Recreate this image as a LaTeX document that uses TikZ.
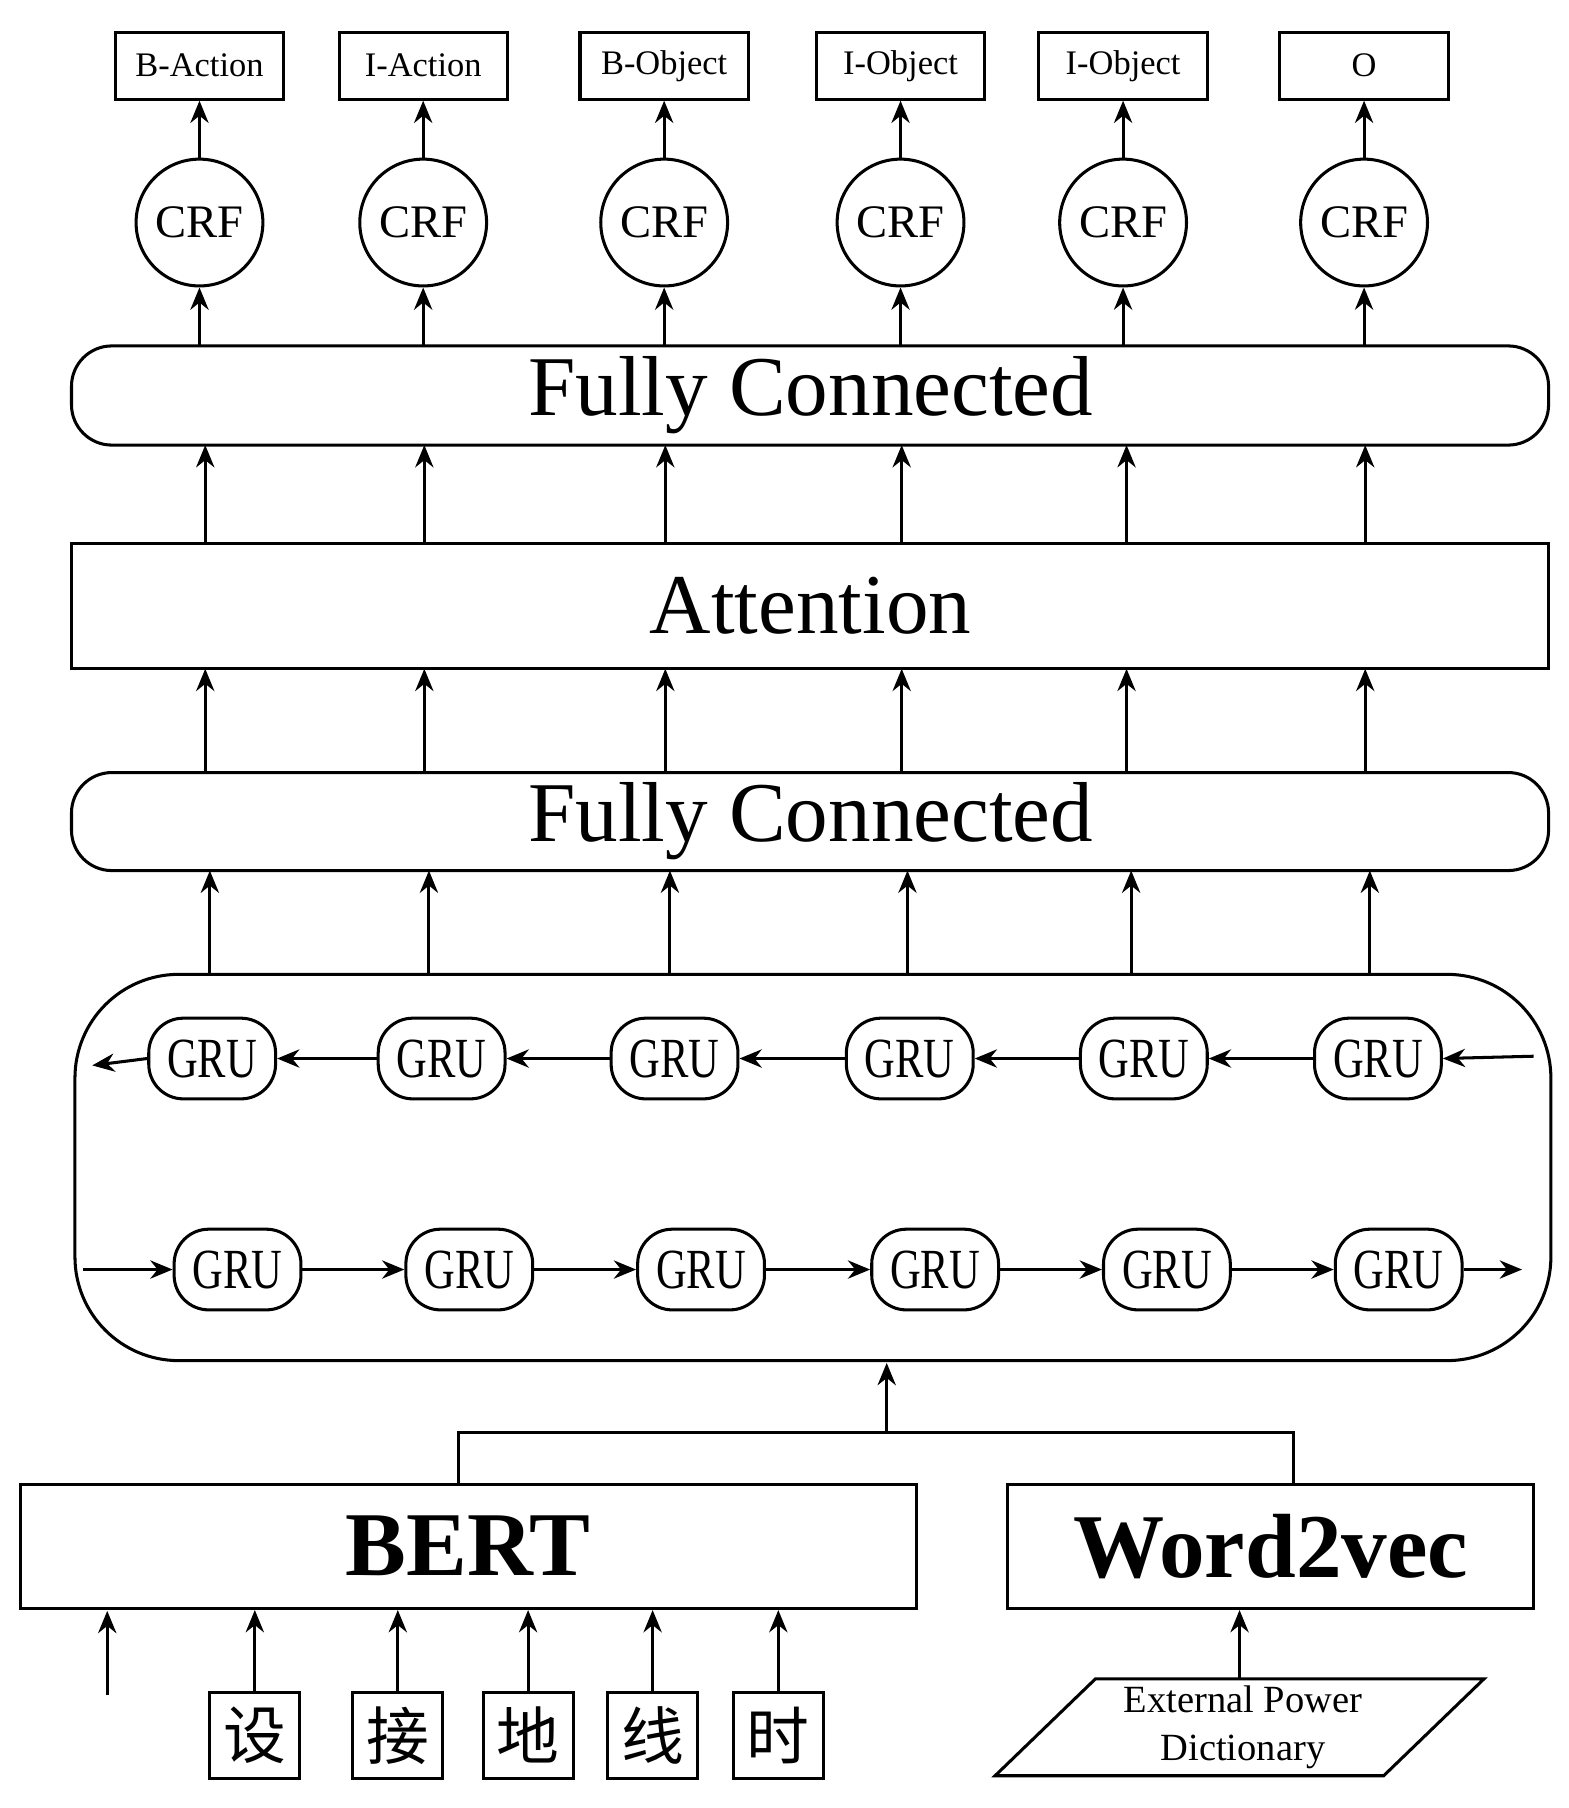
\documentclass[tikz,border=0pt]{standalone}
\usepackage{fontspec}
\setmainfont{Liberation Serif}
\newfontfamily\cjk{Noto Sans CJK SC}
\usetikzlibrary{arrows.meta,shapes.geometric}
\begin{document}
\begin{tikzpicture}[x=0.02cm,y=-0.02cm,
  line width=1.5pt, >={Stealth[length=11pt,width=9pt]},
  lab/.style={draw,minimum width=2.92cm,minimum height=1.16cm,inner sep=0pt,font=\fontsize{17}{17}\selectfont},
  crf/.style={draw,circle,minimum size=2.2cm,inner sep=0pt,font=\fontsize{23}{23}\selectfont},
  gru/.style={draw,rounded corners=0.6cm,minimum width=2.2cm,minimum height=1.4cm,inner sep=0pt,font=\fontsize{28}{28}\selectfont},
  ch/.style={draw,minimum width=1.56cm,minimum height=1.5cm,inner sep=0pt,font=\cjk\fontsize{31}{31}\selectfont},
  big/.style={font=\fontsize{42}{42}\selectfont}]
\useasboundingbox (0,0) rectangle (1360,1568);
% layers
\draw[rounded corners=0.7cm] (62,300) rectangle (1343,386);
\node[big] (fc1) at (703,343) {Fully Connected};
\draw (62,471) rectangle (1343,580);
\node[big] (att) at (703,525) {Attention};
\draw[rounded corners=0.7cm] (62,670) rectangle (1343,755);
\node[big] (fc2) at (703,712) {Fully Connected};
\draw[rounded corners=1.8cm] (65,845) rectangle (1345,1180);
% labels and CRF
\foreach \x/\t/\i in {173/B-Action/1,367/I-Action/2,576/B-Object/3,781/I-Object/4,974/I-Object/5,1183/O/6}{
  \node[lab] (l\i) at (\x,57) {\t};
  \node[crf] (c\i) at (\x,193) {CRF};
  \draw[->] (c\i.north) -- (l\i.south);
  \coordinate (f\i) at (\x,300);
  \draw[->] (f\i) -- (c\i.south);
}
\foreach \x in {178,368,577,782,977,1184}{
  \coordinate (a) at (\x,471); \coordinate (b) at (\x,386);
  \draw[->] (a) -- (b);
  \coordinate (a) at (\x,670); \coordinate (b) at (\x,580);
  \draw[->] (a) -- (b);
}
\foreach \x in {182,372,581,787,981,1188}{
  \coordinate (a) at (\x,845); \coordinate (b) at (\x,755);
  \draw[->] (a) -- (b);
}
% GRU rows
\foreach \x/\i in {184/1,383/2,585/3,789/4,992/5,1195/6}
  \node[gru] (u\i) at (\x,918) {\scalebox{0.75}[1]{GRU}};
\foreach \x/\i in {206/1,407/2,608/3,811/4,1012/5,1213/6}
  \node[gru] (d\i) at (\x,1101) {\scalebox{0.75}[1]{GRU}};
\coordinate (ur) at (1330,916); \coordinate (ul) at (80,924);
\coordinate (dl) at (72,1101); \coordinate (dr) at (1320,1101);
\draw[->] (ur) -- (u6.east);
\foreach \a/\b in {6/5,5/4,4/3,3/2,2/1} \draw[->] (u\a.west) -- (u\b.east);
\draw[->] (u1.west) -- (ul);
\draw[->] (dl) -- (d1.west);
\foreach \a/\b in {1/2,2/3,3/4,4/5,5/6} \draw[->] (d\a.east) -- (d\b.west);
\draw[->] (d6.east) -- (dr);
% embeddings
\node[draw,minimum width=15.54cm,minimum height=2.16cm,font=\bfseries\fontsize{45}{45}\selectfont] (bert) at (406,1341) {BERT};
\node[draw,minimum width=9.12cm,minimum height=2.16cm,font=\bfseries\fontsize{45}{45}\selectfont] (w2v) at (1102,1341) {Word2vec};
\coordinate (bt) at (398,1287); \coordinate (wt) at (1122,1287);
\coordinate (m) at (769,1242); \coordinate (gb) at (769,1182);
\draw (bt) |- (m) -| (wt);
\draw[->] (m) -- (gb);
% inputs
\coordinate (s0) at (93,1470); \coordinate (e0) at (93,1397);
\draw[->] (s0) -- (e0);
\foreach \x/\t/\i in {221/设/1,345/接/2,458/地/3,566/线/4,675/时/5}{
  \node[ch] (k\i) at (\x,1505) {\t};
  \coordinate (e\i) at (k\i.north |- bert.south);
  \draw[->] (k\i.north) -- (e\i);
}
\draw (863,1540) -- (1200,1540) -- (1287,1456) -- (950,1456) -- cycle;
\node[align=center,font=\fontsize{19}{24}\selectfont] (dict) at (1078,1498) {External Power\\Dictionary};
\coordinate (dt) at (1075,1456);
\draw[->] (dt) -- (w2v.south -| dt);
\end{tikzpicture}
\end{document}
